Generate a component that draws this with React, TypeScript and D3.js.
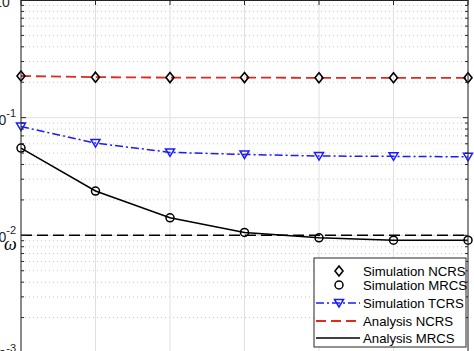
import React from "react";
import * as d3 from "d3";

const xPoints = [1, 2, 3, 4, 5, 6, 7];
const simNCRS = [0.226, 0.221, 0.219, 0.219, 0.218, 0.218, 0.218];
const anaNCRS = [0.226, 0.221, 0.219, 0.219, 0.218, 0.218, 0.218];
const simTCRS = [0.084, 0.0608, 0.0507, 0.0487, 0.0472, 0.0469, 0.0465];
const simMRCS = [0.0551, 0.0238, 0.0141, 0.01058, 0.00953, 0.0091, 0.0091];
const anaMRCS = [0.0551, 0.0238, 0.0141, 0.01058, 0.00953, 0.0091, 0.0091];
const omegaLevel = 0.01;
const yDecades = [1, 0.1, 0.01, 0.001];
const yExps = ["0", "-1", "-2", "-3"];
const legendLabels = [
  "Simulation NCRS",
  "Simulation MRCS",
  "Simulation TCRS",
  "Analysis NCRS",
  "Analysis MRCS",
];

const W = 474;
const H = 351;
const L = 21;
const R = 468;
const T = 0;
const B = 353;

export default function App() {
  const x = d3.scaleLinear().domain([1, 7]).range([L, R]);
  const y = d3.scaleLog().domain([0.001, 1]).range([B, T]);

  const minor: number[] = [];
  [0.001, 0.01, 0.1].forEach((d) => {
    for (let k = 2; k <= 9; k++) minor.push(d * k);
  });

  const line = d3
    .line<number>()
    .x((_, i) => x(xPoints[i]))
    .y((d) => y(d));

  const red = "#e0281e";
  const blue = "#1a1aff";
  const axisC = "#262626";
  const font = "'Liberation Sans', Arial, Helvetica, sans-serif";

  const diamond = (cx: number, cy: number, key: string) => (
    <path
      key={key}
      d={`M${cx},${cy - 5} L${cx + 4},${cy} L${cx},${cy + 5} L${cx - 4},${cy} Z`}
      fill="none"
      stroke="#000"
      strokeWidth={1.6}
    />
  );
  const circle = (cx: number, cy: number, key: string) => (
    <circle key={key} cx={cx} cy={cy} r={4} fill="none" stroke="#000" strokeWidth={1.5} />
  );
  const tri = (cx: number, cy: number, key: string) => (
    <path
      key={key}
      d={`M${cx - 4.5},${cy - 3.5} L${cx + 4.5},${cy - 3.5} L${cx},${cy + 4} Z`}
      fill="none"
      stroke={blue}
      strokeWidth={1.5}
    />
  );

  const legX = 314;
  const legR = 466;
  const legT = 258;
  const legB = 347;
  const rowsY = [271, 285, 303, 321, 338];

  return (
    <div style={{ position: "fixed", left: 0, top: 0, width: W, height: H, background: "#fff" }}>
      <svg width={W} height={H} style={{ display: "block" }}>
        <rect x={0} y={0} width={W} height={H} fill="#fff" />
        {/* minor grid */}
        {minor.map((v, i) => (
          <line
            key={"mg" + i}
            x1={L}
            x2={R}
            y1={y(v)}
            y2={y(v)}
            stroke="#c8c8c8"
            strokeWidth={1}
            strokeDasharray="1,3"
          />
        ))}
        {/* major grid */}
        {yDecades.map((v, i) => (
          <line key={"Mg" + i} x1={L} x2={R} y1={y(v)} y2={y(v)} stroke="#e0e0e0" strokeWidth={1} />
        ))}
        {xPoints.map((v, i) => (
          <line key={"xg" + i} x1={x(v)} x2={x(v)} y1={T} y2={B} stroke="#e0e0e0" strokeWidth={1} />
        ))}

        {/* omega reference line */}
        <line
          x1={L}
          x2={R}
          y1={y(omegaLevel)}
          y2={y(omegaLevel)}
          stroke="#000"
          strokeWidth={1.5}
          strokeDasharray="11,5"
        />

        {/* data lines */}
        <path d={line(anaNCRS) || ""} fill="none" stroke={red} strokeWidth={1.8} strokeDasharray="10,5" />
        <path d={line(simTCRS) || ""} fill="none" stroke={blue} strokeWidth={1.5} strokeDasharray="8,3,2,3" />
        <path d={line(anaMRCS) || ""} fill="none" stroke="#000" strokeWidth={1.5} />

        {/* markers */}
        {simNCRS.map((v, i) => diamond(x(xPoints[i]), y(v), "d" + i))}
        {simMRCS.map((v, i) => circle(x(xPoints[i]), y(v), "c" + i))}
        {simTCRS.map((v, i) => tri(x(xPoints[i]), y(v), "t" + i))}

        {/* axes box */}
        <line x1={L} x2={L} y1={T} y2={B} stroke={axisC} strokeWidth={1} />
        <line x1={R} x2={R} y1={T} y2={B} stroke={axisC} strokeWidth={1} />
        <line x1={L} x2={R} y1={T + 0.5} y2={T + 0.5} stroke={axisC} strokeWidth={1} />
        {/* y ticks */}
        {yDecades.map((v, i) => (
          <g key={"yt" + i}>
            <line x1={L} x2={L + 5} y1={y(v)} y2={y(v)} stroke={axisC} />
            <line x1={R} x2={R - 5} y1={y(v)} y2={y(v)} stroke={axisC} />
          </g>
        ))}
        {minor.map((v, i) => (
          <g key={"ymt" + i}>
            <line x1={L} x2={L + 3} y1={y(v)} y2={y(v)} stroke={axisC} />
            <line x1={R} x2={R - 3} y1={y(v)} y2={y(v)} stroke={axisC} />
          </g>
        ))}
        {xPoints.map((v, i) => (
          <line key={"xt" + i} x1={x(v)} x2={x(v)} y1={T} y2={T + 5} stroke={axisC} />
        ))}
        {/* y tick labels */}
        {yDecades.map((v, i) => (
          <text
            key={"yl" + i}
            x={16}
            y={y(v) + 7}
            textAnchor="end"
            fontFamily={font}
            fontSize={14}
            fill="#262626"
          >
            <tspan>10</tspan>
            <tspan fontSize={11} dy={-8}>
              {yExps[i]}
            </tspan>
          </text>
        ))}
        {/* omega label */}
        <text x={4} y={250} fontFamily="'Liberation Serif', 'Times New Roman', serif" fontStyle="italic" fontSize={18} fill="#000">
          ω
        </text>

        {/* legend */}
        <rect x={legX} y={legT} width={legR - legX} height={legB - legT} fill="#fff" stroke="#262626" strokeWidth={1} />
        {diamond(339, rowsY[0], "ld")}
        {circle(339, rowsY[1], "lc")}
        <line x1={316} x2={360} y1={rowsY[2]} y2={rowsY[2]} stroke={blue} strokeWidth={1.5} strokeDasharray="8,3,2,3" />
        {tri(339, rowsY[2], "lt")}
        <line x1={316} x2={360} y1={rowsY[3]} y2={rowsY[3]} stroke={red} strokeWidth={1.8} strokeDasharray="10,5" />
        <line x1={316} x2={360} y1={rowsY[4]} y2={rowsY[4]} stroke="#000" strokeWidth={1.5} />
        {legendLabels.map((t, i) => (
          <text
            key={"lg" + i}
            x={363}
            y={rowsY[i] + 4.5}
            fontFamily={font}
            fontSize={13.2}
            fill="#000"
          >
            {t}
          </text>
        ))}
      </svg>
    </div>
  );
}
